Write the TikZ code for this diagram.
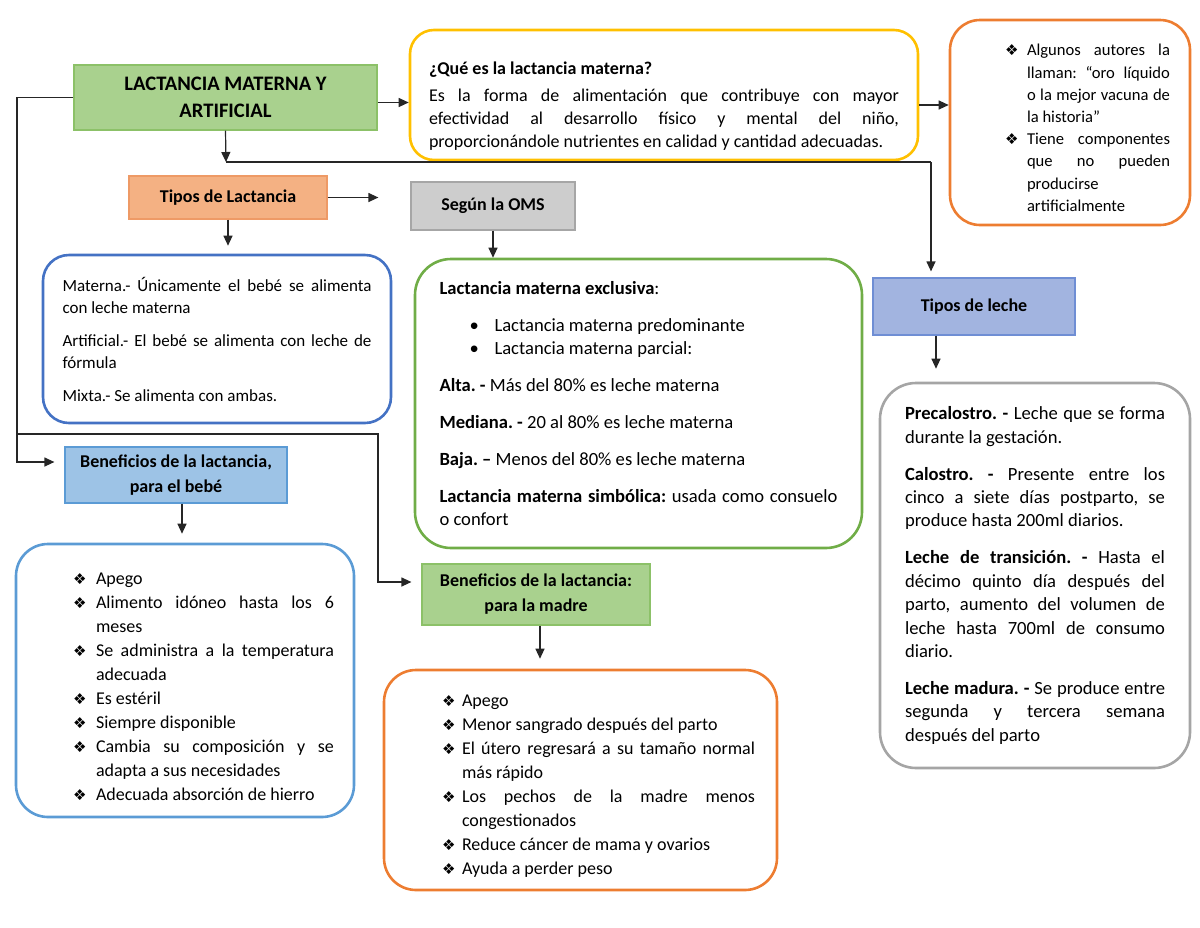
\documentclass[tikz,border=0pt]{standalone}
\usepackage{fontspec}
\setmainfont{Carlito}[WordSpace={1,4,0}]
\newfontfamily\symfont{DejaVu Sans}
\usetikzlibrary{arrows.meta}

\definecolor{verdeF}{HTML}{A9D18E}
\definecolor{verdeB}{HTML}{8CC168}
\definecolor{verde}{HTML}{70AD47}
\definecolor{amarillo}{HTML}{FFC000}
\definecolor{naranja}{HTML}{ED7D31}
\definecolor{salmon}{HTML}{F4B183}
\definecolor{salmonB}{HTML}{EE9A66}
\definecolor{grisF}{HTML}{CDCDCD}
\definecolor{grisB}{HTML}{A6A6A6}
\definecolor{grisL}{HTML}{A5A5A5}
\definecolor{azul}{HTML}{4472C4}
\definecolor{azulF}{HTML}{A2B4E0}
\definecolor{azulB}{HTML}{6F8ED4}
\definecolor{celeste}{HTML}{9DC3E6}
\definecolor{celesteB}{HTML}{5B9BD5}

% bullet with hanging indent: #1 = bullet indent, #2 = text indent
\newcommand{\dia}[2]{\par\noindent\hangindent=#2\hangafter=1\hspace*{#1}\makebox[\dimexpr#2-#1\relax][l]{\symfont\fontsize{7.5}{7.5}\selectfont ❖}}
\newcommand{\punto}{\hspace*{15pt}\makebox[12.5pt][l]{•}}

\begin{document}
\begin{tikzpicture}[x=0.5pt, y=-0.5pt,
    caja/.style={draw, line width=0.6pt, font=\fontsize{9}{12.5}\selectfont\bfseries, align=center, inner sep=0pt},
    nube/.style={draw, line width=1.3pt, inner sep=0pt, align=justify, font=\fontsize{9}{11.7}\selectfont,
        execute at begin node={\setlength{\parindent}{0pt}\setlength{\parskip}{6.8pt}\frenchspacing\hyphenpenalty=10000\exhyphenpenalty=10000\tolerance=10000\emergencystretch=6pt}},
    lista/.style={nube, font=\fontsize{9}{12}\selectfont, execute at begin node={\setlength{\parskip}{0pt}}},
    arrow/.style={-{Triangle[length=5pt,width=4.5pt]}, line width=0.6pt, black!85},
    link/.style={line width=0.6pt, black!85}
]
    \useasboundingbox (0,0) rectangle (1200,927);

    \node[caja, fill=verdeF, draw=verdeB, minimum width=151.5pt, minimum height=32.5pt, font=\fontsize{10.3}{13.5}\selectfont\bfseries] (titulo) at (225.5,97.5) {LACTANCIA MATERNA Y\\ARTIFICIAL};
    \node[nube, draw=amarillo, rounded corners=12pt, minimum width=254pt, minimum height=65pt, text width=235pt, font=\fontsize{9}{11.5}\selectfont, execute at begin node={\setlength{\parskip}{2pt}}] (que) at (664,95) {\rule{0pt}{17pt}\textbf{¿Qué es la lactancia materna?}\par Es la forma de alimentación que contribuye con mayor efectividad al desarrollo físico y mental del niño, proporcionándole nutrientes en calidad y cantidad adecuadas.};
    \node[nube, draw=naranja, rounded corners=15pt, minimum width=120pt, minimum height=102.5pt, text width=100pt, font=\fontsize{8.3}{11.1}\selectfont, execute at begin node={\setlength{\parskip}{0pt}}] (autores) at (1070,122.5) {\dia{17.5pt}{28.5pt}Algunos autores la\linebreak llaman: “oro líquido\linebreak o la mejor vacuna de\linebreak la historia”\dia{17.5pt}{28.5pt}Tiene componentes\linebreak que no pueden\linebreak producirse\\ artificialmente\par};

    \node[caja, fill=salmon, draw=salmonB, minimum width=99pt, minimum height=21.5pt] (tiposlact) at (228,197.5) {Tipos de Lactancia};
    \node[caja, fill=grisF, draw=grisB, minimum width=82pt, minimum height=24pt] (oms) at (493,206) {Según la OMS};
    \node[caja, fill=azulF, draw=azulB, minimum width=101pt, minimum height=28.5pt] (leche) at (974,306.5) {Tipos de leche};

    \node[nube, draw=azul, rounded corners=13pt, minimum width=174pt, minimum height=84pt, text width=154.5pt, font=\fontsize{8.5}{11}\selectfont, execute at begin node={\setlength{\parskip}{5.5pt}}] (tipos) at (217,339) {Materna.- Únicamente el bebé se alimenta con leche materna\par Artificial.- El bebé se alimenta con leche de fórmula\par Mixta.- Se alimenta con ambas.};
    \node[nube, draw=verde, rounded corners=18pt, minimum width=223.5pt, minimum height=144.5pt, text width=199pt, font=\fontsize{9.3}{11.7}\selectfont] (omslista) at (638.5,403.5) {\textbf{Lactancia materna exclusiva}:\par \punto Lactancia materna predominante\\ \punto Lactancia materna parcial:\par \textbf{Alta. -} Más del 80\% es leche materna\par \textbf{Mediana. -} 20 al 80\% es leche materna\par \textbf{Baja. –} Menos del 80\% es leche materna\par \textbf{Lactancia materna simbólica:} usada como consuelo o confort};
    \node[nube, draw=grisL, rounded corners=18pt, minimum width=155pt, minimum height=192.5pt, text width=130pt, font=\fontsize{9.3}{11.7}\selectfont] (lechelista) at (1035,575.5) {\textbf{Precalostro. -} Leche que se forma durante la gestación.\par \textbf{Calostro. -} Presente entre los cinco a siete días postparto, se produce hasta 200ml diarios.\par \textbf{Leche de transición. -} Hasta el décimo quinto día después del parto, aumento del volumen de leche hasta 700ml de consumo diario.\par \textbf{Leche madura. -} Se produce entre\linebreak segunda y tercera semana\linebreak después del parto};

    \node[caja, fill=celeste, draw=celesteB, minimum width=111pt, minimum height=28pt] (bebe) at (176,475) {Beneficios de la lactancia,\\para el bebé};
    \node[lista, draw=celesteB, rounded corners=16pt, minimum width=169pt, minimum height=136.5pt, text width=149pt] (bebelista) at (185,680.5) {\dia{18.5pt}{30pt}Apego\dia{18.5pt}{30pt}Alimento idóneo hasta los 6 meses\dia{18.5pt}{30pt}Se administra a la temperatura adecuada\dia{18.5pt}{30pt}Es estéril\dia{18.5pt}{30pt}Siempre disponible\dia{18.5pt}{30pt}Cambia su composición y se adapta a sus necesidades\dia{18.5pt}{30pt}Adecuada absorción de hierro\par};
    \node[caja, fill=verdeF, draw=verdeB, minimum width=114pt, minimum height=30.5pt] (madre) at (536,594.5) {Beneficios de la lactancia:\\para la madre};
    \node[lista, draw=naranja, rounded corners=16pt, minimum width=196.5pt, minimum height=110pt, text width=174.5pt] (madrelista) at (580.5,780) {\dia{18pt}{28pt}Apego\dia{18pt}{28pt}Menor sangrado después del parto\dia{18pt}{28pt}El útero regresará a su tamaño normal más rápido\dia{18pt}{28pt}Los pechos de la madre menos congestionados\dia{18pt}{28pt}Reduce cáncer de mama y ovarios\dia{18pt}{28pt}Ayuda a perder peso\par};

    % corner points of the connectors
    \coordinate (nudo) at (226,162);
    \coordinate (esq) at (931,162);
    \coordinate (izq1) at (17,97.5);
    \coordinate (izq2) at (17,462);
    \coordinate (ram1) at (17,434);
    \coordinate (ram2) at (378,434);
    \coordinate (ram3) at (378,582);

    \draw[arrow] ([yshift=-2.5pt]titulo.east) -- ([yshift=-2.5pt]titulo.east -| que.west);
    \draw[arrow] (titulo.south) -- (nudo);
    \draw[link] (nudo) -- (esq);
    \draw[arrow, shorten >=3pt] (esq) -- (esq |- leche.north);
    \draw[arrow, shorten >=16pt] (tiposlact.east) -- (tiposlact.east -| oms.west);
    \draw[arrow, shorten >=4pt] (tiposlact.south) -- (tiposlact.south |- tipos.north);
    \draw[arrow] (oms.south) -- (oms.south |- omslista.north);
    \draw[arrow] ([yshift=-5pt]que.east) -- ([yshift=-5pt]que.east -| autores.west);
    \draw[arrow, shorten >=6.5pt] ([xshift=-19pt]leche.south) -- ([xshift=-19pt]leche.south |- lechelista.north);
    \draw[arrow, shorten >=4.5pt] ([xshift=3pt]bebe.south) -- ([xshift=3pt]bebe.south |- bebelista.north);
    \draw[arrow, shorten >=5pt] ([xshift=2pt]madre.south) -- ([xshift=2pt]madre.south |- madrelista.north);
    \draw[arrow, shorten >=5pt] (titulo.west) -- (izq1) -- (izq2) -- (izq2 -| bebe.west);
    \draw[arrow, shorten >=5pt] (ram1) -- (ram2) -- (ram3) -- (ram3 -| madre.west);
\end{tikzpicture}
\end{document}
